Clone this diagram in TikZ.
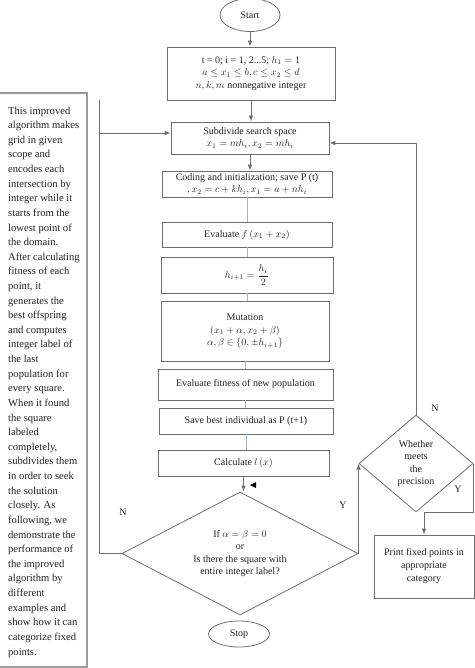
\documentclass[tikz,border=0pt]{standalone}
\usepackage{fontspec}
\setmainfont{Liberation Serif}
\usetikzlibrary{shapes.geometric,arrows.meta,calc}
\definecolor{linegray}{HTML}{6E6E6E}
\definecolor{framegray}{HTML}{9A9A9A}
\definecolor{linkblue}{HTML}{A3B5C8}
\definecolor{txt}{HTML}{222222}
\begin{document}
\begin{tikzpicture}[x=1pt,y=-1pt,
  box/.style={draw=linegray, line width=0.8pt, align=center, inner sep=0pt,
    text=txt, font=\fontsize{10}{12.5}\selectfont},
  term/.style={draw=linegray, line width=0.8pt, ellipse, inner sep=0pt,
    text=txt, font=\fontsize{10}{12}\selectfont},
  decision/.style={draw=linegray, line width=0.8pt, diamond, inner sep=0pt,
    align=center, text=txt, font=\fontsize{10}{12.3}\selectfont},
  arr/.style={draw=linegray, line width=0.8pt, -{Latex[length=6pt,width=4.5pt]}},
  link/.style={draw=linkblue, line width=0.8pt},
  plain/.style={draw=linegray, line width=0.8pt},
  lbl/.style={inner sep=0pt, text=txt, font=\fontsize{10}{12}\selectfont}]
\useasboundingbox (0,0) rectangle (474,668);

% left description box
\draw[framegray, line width=1.5pt] (-3,93) rectangle (87,667);
\node[anchor=north west, inner sep=0pt, align=left, text=txt,
  font=\fontsize{10.6}{14.62}\selectfont] (desc) at (8,106.5) {This improved\\
algorithm makes\\
grid in given\\
scope and\\
encodes each\\
intersection by\\
integer while it\\
starts from the\\
lowest point of\\
the domain.\\
After calculating\\
fitness of each\\
point, it\\
generates the\\
best offspring\\
and computes\\
integer label of\\
the last\\
population for\\
every square.\\
When it found\\
the square\\
labeled\\
completely,\\
subdivides them\\
in order to seek\\
the solution\\
closely. As\\
following, we\\
demonstrate the\\
performance of\\
the improved\\
algorithm by\\
different\\
examples and\\
show how it can\\
categorize fixed\\
points.};

% flowchart nodes
\node[term, minimum width=60pt, minimum height=33pt] (start) at (250,15) {Start};
\node[box, minimum width=168pt, minimum height=53pt] (b1) at (251,73.5)
  {t = 0; i = 1, 2...5; $h_1 = 1$\\ $a \le x_1 \le b, c \le x_2 \le d$\\ $n, k, m$ nonnegative integer};
\node[box, minimum width=158pt, minimum height=32pt] (b2) at (250,138)
  {Subdivide search space\\ $x_1 = mh_i, x_2 = mh_i$};
\node[box, minimum width=170pt, minimum height=26pt] (b3) at (247,184)
  {Coding and initialization; save P (t)\\ $, x_2 = c + kh_i, x_1 = a + nh_i$};
\node[box, minimum width=170pt, minimum height=25pt] (b4) at (247,234.5)
  {Evaluate $f\,(x_1 + x_2)$};
\node[box, minimum width=172pt, minimum height=36pt] (b5) at (247,275)
  {$h_{i+1} = \displaystyle\frac{h_i}{2}$};
\node[box, minimum width=168pt, minimum height=60pt] (b6) at (245,331)
  {Mutation\\ $(x_1 + \alpha, x_2 + \beta)$\\ $\alpha, \beta \in \{0, \pm h_{i+1}\}$};
\node[box, minimum width=175pt, minimum height=31pt] (b7) at (245.5,384.5)
  {Evaluate fitness of new population};
\node[box, minimum width=174pt, minimum height=26pt] (b8) at (246,421)
  {Save best individual as P (t+1)};
\node[box, minimum width=171pt, minimum height=26pt] (b9) at (243.5,463)
  {Calculate $l\,(x)$};
\node[decision, minimum width=236pt, minimum height=123pt, shape aspect=1.92] (dia) at (240,553.5)
  {If $\alpha = \beta = 0$\\ or\\ Is there the square with\\ entire integer label?};
\node[term, minimum width=61pt, minimum height=26pt] (stop) at (239,634) {Stop};
\node[decision, minimum width=114pt, minimum height=97pt, shape aspect=1.18] (rd) at (416,463.5)
  {Whether\\ meets\\ the\\ precision};
\node[box, minimum width=100pt, minimum height=63pt, font=\fontsize{10}{13}\selectfont] (pb) at (424,566.5)
  {Print fixed points in\\ appropriate\\ category};

% labels
\node[lbl] (nleft) at (123,512) {N};
\node[lbl] (yleft) at (343,505) {Y};
\node[lbl] (nright) at (435,408) {N};
\node[lbl] (yright) at (458,489) {Y};

% connectors
\draw[arr] (start.south) -- (start.south |- b1.north);
\draw[arr] (b1.south) -- (b1.south |- b2.north);
\draw[arr] (b2.south) -- (b2.south |- b3.north);
\draw[link] (b3.south) -- (b3.south |- b4.north);
\draw[link] (b4.south) -- (b4.south |- b5.north);
\draw[link] (b5.south) -- (b5.south |- b6.north);
\draw[link] (b6.south) -- (b6.south |- b7.north);
\draw[link] (b7.south) -- (b7.south |- b8.north);
\draw[link] (b8.south) -- (b8.south |- b9.north);
\draw[arr] (b9.south) -- (b9.south |- dia.north);
\fill[black] (250,485) -- (256,482) -- (256,488) -- cycle;

% N loop (left)
\coordinate (ntop) at (99,100);
\coordinate (b2in) at ($(b2.west)+(0,-5)$);
\draw[plain] (dia.west) -| (ntop);
\draw[arr] (ntop |- b2in) -- (b2in);

% Y to precision test
\draw[arr] (dia.east) -| (rd.west);

% N loop (right)
\coordinate (b2inr) at ($(b2.east)+(0,5)$);
\draw[arr] (rd.north) |- (b2inr);

% Y to print
\coordinate (ydrop) at (424,512);
\draw[arr] (rd.east) -- (rd.east |- ydrop) -- (ydrop) -- (pb.north);
\end{tikzpicture}
\end{document}
